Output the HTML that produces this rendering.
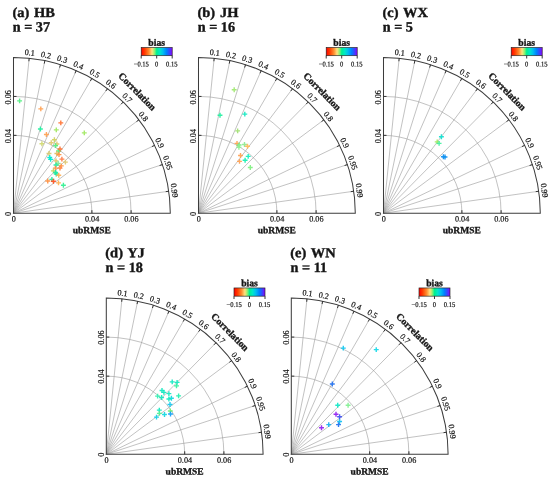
<!DOCTYPE html>
<html><head><meta charset="utf-8"><title>Taylor diagrams</title>
<style>
html,body{margin:0;padding:0;background:#fff}
svg{display:block}
text{font-family:"Liberation Serif","Times New Roman",serif;fill:#151515;stroke:#151515;stroke-width:0.2}
.t{font-weight:bold;font-size:14.2px;stroke-width:0.4}
.tk{font-size:8.2px;text-anchor:middle}
.ax{font-weight:bold;font-size:9.5px;text-anchor:middle;stroke-width:0.33}
.co{font-weight:bold;font-size:9.8px;text-anchor:middle;stroke-width:0.33}
.cb{font-weight:bold;font-size:9.7px;text-anchor:middle;stroke-width:0.33}
.cl{font-size:7.3px;text-anchor:middle}
.g{stroke:#9c9c9c;stroke-width:0.62;fill:none}
.a{stroke:#3c3c3c;stroke-width:1.02;fill:none}
.k{stroke:#2a2a2a;stroke-width:0.95;fill:none}
.m{stroke-width:1.4;fill:none;opacity:0.92}
</style></head><body>
<svg width="550" height="480" viewBox="0 0 550 480">
<defs><linearGradient id="rb" x1="0" x2="1" y1="0" y2="0">
<stop offset="0" stop-color="#ff0000"/><stop offset="0.12" stop-color="#ff4000"/><stop offset="0.25" stop-color="#ff9030"/>
<stop offset="0.35" stop-color="#ffe080"/><stop offset="0.42" stop-color="#a0f070"/><stop offset="0.5" stop-color="#00f090"/>
<stop offset="0.6" stop-color="#00e8c8"/><stop offset="0.7" stop-color="#00c0f0"/><stop offset="0.82" stop-color="#0080ff"/>
<stop offset="0.92" stop-color="#4040ff"/><stop offset="1" stop-color="#9000ff"/></linearGradient></defs>
<rect width="550" height="480" fill="#fff"/>

<g transform="translate(13.5,213.2)">
<text class="t" style="font-size:13.9px;word-spacing:1.1px" transform="translate(-1,-196.3) rotate(0.05) scale(1.04,1)">(a) HB</text>
<text class="t" transform="translate(-0.7,-181.7) rotate(0.05)">n = 37</text>
<path class="g" d="M0 0L15.68 -154.92M0 0L31.36 -152.55M0 0L47.04 -148.53M0 0L62.72 -142.7M0 0L78.4 -134.84M0 0L94.08 -124.56M0 0L109.76 -111.19M0 0L125.44 -93.42M0 0L141.12 -67.87M0 0L148.96 -48.62M0 0L155.23 -21.96"/>
<path class="g" d="M0 -77.85A78.4 77.85 0 0 1 78.4 0"/>
<path class="g" d="M0 -116.77A117.6 116.77 0 0 1 117.6 0"/>
<path class="a" d="M0 -155.7A156.8 155.7 0 0 1 156.8 0L0 0Z"/>
<path class="k" d="M15.68 -154.92L15.38 -151.93M31.36 -152.55L30.76 -149.61M47.04 -148.53L46.14 -145.67M62.72 -142.7L61.52 -139.95M78.4 -134.84L76.9 -132.24M94.08 -124.56L92.28 -122.16M109.76 -111.19L107.66 -109.05M125.44 -93.42L123.04 -91.62M141.12 -67.87L138.42 -66.56M148.96 -48.62L146.11 -47.68M155.23 -21.96L152.26 -21.54M78.4 0V-3M0 -77.85H3M117.6 0V-3M0 -116.77H3"/>
<text class="tk" transform="translate(16.23,-160.39) rotate(5.74)" y="2.5">0.1</text>
<text class="tk" transform="translate(32.46,-157.94) rotate(11.54)" y="2.5">0.2</text>
<text class="tk" transform="translate(48.69,-153.77) rotate(17.46)" y="2.5">0.3</text>
<text class="tk" transform="translate(64.92,-147.74) rotate(23.58)" y="2.5">0.4</text>
<text class="tk" transform="translate(81.15,-139.6) rotate(30)" y="2.5">0.5</text>
<text class="tk" transform="translate(97.38,-128.96) rotate(36.87)" y="2.5">0.6</text>
<text class="tk" transform="translate(113.61,-115.12) rotate(44.43)" y="2.5">0.7</text>
<text class="tk" transform="translate(129.84,-96.72) rotate(53.13)" y="2.5">0.8</text>
<text class="tk" transform="translate(146.07,-70.27) rotate(64.16)" y="2.5">0.9</text>
<text class="tk" transform="translate(154.19,-50.33) rotate(71.81)" y="2.5">0.95</text>
<text class="tk" transform="translate(160.68,-22.74) rotate(81.89)" y="2.5">0.99</text>
<text class="tk" transform="translate(0.2,8.4) rotate(0.05)">0</text>
<text class="tk" transform="translate(-2.1,0.85) rotate(-90)">0</text>
<text class="tk" transform="translate(78.6,8.4) rotate(0.05)">0.04</text>
<text class="tk" transform="translate(-2.1,-77) rotate(-90)">0.04</text>
<text class="tk" transform="translate(117.8,8.4) rotate(0.05)">0.06</text>
<text class="tk" transform="translate(-2.1,-115.92) rotate(-90)">0.06</text>
<text class="ax" transform="translate(78.3,20.1) rotate(0.05)">ubRMSE</text>
<text class="co" transform="translate(123.8,-121.8) rotate(45.3)" y="3.3">Correlation</text>
<text class="cb" transform="translate(143.2,-167.5) rotate(0.05)">bias</text>
<rect x="127.7" y="-165.7" width="31" height="8.2" fill="url(#rb)" stroke="#222" stroke-width="0.65"/>
<path class="k" d="M127.7 -157.5v2.8M143.2 -157.5v2.8M158.7 -157.5v2.8"/>
<text class="cl" transform="translate(127.8,-146.7) rotate(0.05) scale(0.9,1)">−0.15</text>
<text class="cl" transform="translate(143.2,-146.7) rotate(0.05) scale(0.9,1)">0</text>
<text class="cl" transform="translate(158.2,-146.7) rotate(0.05) scale(0.9,1)">0.15</text>
<path class="m" stroke="#50f080" d="M3.65 -112.3h4.9M6.1 -114.75v4.9"/>
<path class="m" stroke="#ffa050" d="M24.85 -104.3h4.9M27.3 -106.75v4.9"/>
<path class="m" stroke="#ff7030" d="M44.85 -90.3h4.9M47.3 -92.75v4.9"/>
<path class="m" stroke="#20f0a0" d="M24.45 -84.2h4.9M26.9 -86.65v4.9"/>
<path class="m" stroke="#a0e860" d="M40.35 -83.3h4.9M42.8 -85.75v4.9"/>
<path class="m" stroke="#ffa050" d="M30.45 -78.7h4.9M32.9 -81.15v4.9"/>
<path class="m" stroke="#a0e860" d="M68.35 -80.3h4.9M70.8 -82.75v4.9"/>
<path class="m" stroke="#d0d060" d="M38.45 -73.45h4.9M40.9 -75.9v4.9"/>
<path class="m" stroke="#d0d870" d="M25.95 -69.45h4.9M28.4 -71.9v4.9"/>
<path class="m" stroke="#e0c870" d="M35.3 -70.45h4.9M37.75 -72.9v4.9"/>
<path class="m" stroke="#e0c870" d="M40.95 -69.2h4.9M43.4 -71.65v4.9"/>
<path class="m" stroke="#50f080" d="M39.65 -67.6h4.9M42.1 -70.05v4.9"/>
<path class="m" stroke="#50f080" d="M42.55 -62.2h4.9M45 -64.65v4.9"/>
<path class="m" stroke="#ff7030" d="M44.05 -64.2h4.9M46.5 -66.65v4.9"/>
<path class="m" stroke="#d8c870" d="M33.05 -59.7h4.9M35.5 -62.15v4.9"/>
<path class="m" stroke="#e0b860" d="M40.95 -59.7h4.9M43.4 -62.15v4.9"/>
<path class="m" stroke="#ff9040" d="M43.05 -58.6h4.9M45.5 -61.05v4.9"/>
<path class="m" stroke="#00e8d0" d="M33.8 -55.7h4.9M36.25 -58.15v4.9"/>
<path class="m" stroke="#00e8d0" d="M34.65 -53.8h4.9M37.1 -56.25v4.9"/>
<path class="m" stroke="#ff7840" d="M45.95 -54.1h4.9M48.4 -56.55v4.9"/>
<path class="m" stroke="#e0c060" d="M40.05 -52.3h4.9M42.5 -54.75v4.9"/>
<path class="m" stroke="#e0c870" d="M49.45 -51.1h4.9M51.9 -53.55v4.9"/>
<path class="m" stroke="#80e890" d="M42.15 -49.7h4.9M44.6 -52.15v4.9"/>
<path class="m" stroke="#20e8a0" d="M40.05 -48.2h4.9M42.5 -50.65v4.9"/>
<path class="m" stroke="#ff9040" d="M45.3 -47.3h4.9M47.75 -49.75v4.9"/>
<path class="m" stroke="#ff8040" d="M44.05 -45.1h4.9M46.5 -47.55v4.9"/>
<path class="m" stroke="#ff9040" d="M39.45 -45.1h4.9M41.9 -47.55v4.9"/>
<path class="m" stroke="#c8d060" d="M37.45 -42.3h4.9M39.9 -44.75v4.9"/>
<path class="m" stroke="#20e8a0" d="M39.65 -40.7h4.9M42.1 -43.15v4.9"/>
<path class="m" stroke="#20e8a0" d="M40.3 -39.2h4.9M42.75 -41.65v4.9"/>
<path class="m" stroke="#ffb050" d="M42.8 -37.95h4.9M45.25 -40.4v4.9"/>
<path class="m" stroke="#ff9040" d="M31.8 -32.2h4.9M34.25 -34.65v4.9"/>
<path class="m" stroke="#20e8a0" d="M35.95 -33.8h4.9M38.4 -36.25v4.9"/>
<path class="m" stroke="#ff5020" d="M37.45 -31.95h4.9M39.9 -34.4v4.9"/>
<path class="m" stroke="#ffb050" d="M42.55 -30.3h4.9M45 -32.75v4.9"/>
<path class="m" stroke="#30f090" d="M47.45 -27.95h4.9M49.9 -30.4v4.9"/>
</g>
<g transform="translate(198.5,213.2)">
<text class="t" style="font-size:13.9px;word-spacing:1.1px" transform="translate(-1,-196.3) rotate(0.05) scale(1.04,1)">(b) JH</text>
<text class="t" transform="translate(-0.7,-181.7) rotate(0.05)">n = 16</text>
<path class="g" d="M0 0L15.68 -154.92M0 0L31.36 -152.55M0 0L47.04 -148.53M0 0L62.72 -142.7M0 0L78.4 -134.84M0 0L94.08 -124.56M0 0L109.76 -111.19M0 0L125.44 -93.42M0 0L141.12 -67.87M0 0L148.96 -48.62M0 0L155.23 -21.96"/>
<path class="g" d="M0 -77.85A78.4 77.85 0 0 1 78.4 0"/>
<path class="g" d="M0 -116.77A117.6 116.77 0 0 1 117.6 0"/>
<path class="a" d="M0 -155.7A156.8 155.7 0 0 1 156.8 0L0 0Z"/>
<path class="k" d="M15.68 -154.92L15.38 -151.93M31.36 -152.55L30.76 -149.61M47.04 -148.53L46.14 -145.67M62.72 -142.7L61.52 -139.95M78.4 -134.84L76.9 -132.24M94.08 -124.56L92.28 -122.16M109.76 -111.19L107.66 -109.05M125.44 -93.42L123.04 -91.62M141.12 -67.87L138.42 -66.56M148.96 -48.62L146.11 -47.68M155.23 -21.96L152.26 -21.54M78.4 0V-3M0 -77.85H3M117.6 0V-3M0 -116.77H3"/>
<text class="tk" transform="translate(16.23,-160.39) rotate(5.74)" y="2.5">0.1</text>
<text class="tk" transform="translate(32.46,-157.94) rotate(11.54)" y="2.5">0.2</text>
<text class="tk" transform="translate(48.69,-153.77) rotate(17.46)" y="2.5">0.3</text>
<text class="tk" transform="translate(64.92,-147.74) rotate(23.58)" y="2.5">0.4</text>
<text class="tk" transform="translate(81.15,-139.6) rotate(30)" y="2.5">0.5</text>
<text class="tk" transform="translate(97.38,-128.96) rotate(36.87)" y="2.5">0.6</text>
<text class="tk" transform="translate(113.61,-115.12) rotate(44.43)" y="2.5">0.7</text>
<text class="tk" transform="translate(129.84,-96.72) rotate(53.13)" y="2.5">0.8</text>
<text class="tk" transform="translate(146.07,-70.27) rotate(64.16)" y="2.5">0.9</text>
<text class="tk" transform="translate(154.19,-50.33) rotate(71.81)" y="2.5">0.95</text>
<text class="tk" transform="translate(160.68,-22.74) rotate(81.89)" y="2.5">0.99</text>
<text class="tk" transform="translate(0.2,8.4) rotate(0.05)">0</text>
<text class="tk" transform="translate(-2.1,0.85) rotate(-90)">0</text>
<text class="tk" transform="translate(78.6,8.4) rotate(0.05)">0.04</text>
<text class="tk" transform="translate(-2.1,-77) rotate(-90)">0.04</text>
<text class="tk" transform="translate(117.8,8.4) rotate(0.05)">0.06</text>
<text class="tk" transform="translate(-2.1,-115.92) rotate(-90)">0.06</text>
<text class="ax" transform="translate(78.3,20.1) rotate(0.05)">ubRMSE</text>
<text class="co" transform="translate(123.8,-121.8) rotate(45.3)" y="3.3">Correlation</text>
<text class="cb" transform="translate(143.2,-167.5) rotate(0.05)">bias</text>
<rect x="127.7" y="-165.7" width="31" height="8.2" fill="url(#rb)" stroke="#222" stroke-width="0.65"/>
<path class="k" d="M127.7 -157.5v2.8M143.2 -157.5v2.8M158.7 -157.5v2.8"/>
<text class="cl" transform="translate(127.8,-146.7) rotate(0.05) scale(0.9,1)">−0.15</text>
<text class="cl" transform="translate(143.2,-146.7) rotate(0.05) scale(0.9,1)">0</text>
<text class="cl" transform="translate(158.2,-146.7) rotate(0.05) scale(0.9,1)">0.15</text>
<path class="m" stroke="#a0e870" d="M33.25 -123.5h4.9M35.7 -125.95v4.9"/>
<path class="m" stroke="#20f0a0" d="M19.05 -98h4.9M21.5 -100.45v4.9"/>
<path class="m" stroke="#10e8c0" d="M43.85 -99.1h4.9M46.3 -101.55v4.9"/>
<path class="m" stroke="#a0e070" d="M36.7 -82.3h4.9M39.15 -84.75v4.9"/>
<path class="m" stroke="#ffa050" d="M36.05 -69.8h4.9M38.5 -72.25v4.9"/>
<path class="m" stroke="#70f080" d="M38.15 -68.2h4.9M40.6 -70.65v4.9"/>
<path class="m" stroke="#90f090" d="M37.95 -65.9h4.9M40.4 -68.35v4.9"/>
<path class="m" stroke="#90e890" d="M43.55 -68.7h4.9M46 -71.15v4.9"/>
<path class="m" stroke="#ffb858" d="M46.55 -67h4.9M49 -69.45v4.9"/>
<path class="m" stroke="#ffa050" d="M39.55 -57.7h4.9M42 -60.15v4.9"/>
<path class="m" stroke="#10f0c0" d="M47.25 -56.8h4.9M49.7 -59.25v4.9"/>
<path class="m" stroke="#ffa050" d="M38.55 -51.8h4.9M41 -54.25v4.9"/>
<path class="m" stroke="#10f0b0" d="M44.15 -53h4.9M46.6 -55.45v4.9"/>
<path class="m" stroke="#80f080" d="M49.35 -45.7h4.9M51.8 -48.15v4.9"/>
</g>
<g transform="translate(383.5,213.2)">
<text class="t" style="font-size:13.9px;word-spacing:1.1px" transform="translate(-1,-196.3) rotate(0.05) scale(1.04,1)">(c) WX</text>
<text class="t" transform="translate(-0.7,-181.7) rotate(0.05)">n = 5</text>
<path class="g" d="M0 0L15.68 -154.92M0 0L31.36 -152.55M0 0L47.04 -148.53M0 0L62.72 -142.7M0 0L78.4 -134.84M0 0L94.08 -124.56M0 0L109.76 -111.19M0 0L125.44 -93.42M0 0L141.12 -67.87M0 0L148.96 -48.62M0 0L155.23 -21.96"/>
<path class="g" d="M0 -77.85A78.4 77.85 0 0 1 78.4 0"/>
<path class="g" d="M0 -116.77A117.6 116.77 0 0 1 117.6 0"/>
<path class="a" d="M0 -155.7A156.8 155.7 0 0 1 156.8 0L0 0Z"/>
<path class="k" d="M15.68 -154.92L15.38 -151.93M31.36 -152.55L30.76 -149.61M47.04 -148.53L46.14 -145.67M62.72 -142.7L61.52 -139.95M78.4 -134.84L76.9 -132.24M94.08 -124.56L92.28 -122.16M109.76 -111.19L107.66 -109.05M125.44 -93.42L123.04 -91.62M141.12 -67.87L138.42 -66.56M148.96 -48.62L146.11 -47.68M155.23 -21.96L152.26 -21.54M78.4 0V-3M0 -77.85H3M117.6 0V-3M0 -116.77H3"/>
<text class="tk" transform="translate(16.23,-160.39) rotate(5.74)" y="2.5">0.1</text>
<text class="tk" transform="translate(32.46,-157.94) rotate(11.54)" y="2.5">0.2</text>
<text class="tk" transform="translate(48.69,-153.77) rotate(17.46)" y="2.5">0.3</text>
<text class="tk" transform="translate(64.92,-147.74) rotate(23.58)" y="2.5">0.4</text>
<text class="tk" transform="translate(81.15,-139.6) rotate(30)" y="2.5">0.5</text>
<text class="tk" transform="translate(97.38,-128.96) rotate(36.87)" y="2.5">0.6</text>
<text class="tk" transform="translate(113.61,-115.12) rotate(44.43)" y="2.5">0.7</text>
<text class="tk" transform="translate(129.84,-96.72) rotate(53.13)" y="2.5">0.8</text>
<text class="tk" transform="translate(146.07,-70.27) rotate(64.16)" y="2.5">0.9</text>
<text class="tk" transform="translate(154.19,-50.33) rotate(71.81)" y="2.5">0.95</text>
<text class="tk" transform="translate(160.68,-22.74) rotate(81.89)" y="2.5">0.99</text>
<text class="tk" transform="translate(0.2,8.4) rotate(0.05)">0</text>
<text class="tk" transform="translate(-2.1,0.85) rotate(-90)">0</text>
<text class="tk" transform="translate(78.6,8.4) rotate(0.05)">0.04</text>
<text class="tk" transform="translate(-2.1,-77) rotate(-90)">0.04</text>
<text class="tk" transform="translate(117.8,8.4) rotate(0.05)">0.06</text>
<text class="tk" transform="translate(-2.1,-115.92) rotate(-90)">0.06</text>
<text class="ax" transform="translate(78.3,20.1) rotate(0.05)">ubRMSE</text>
<text class="co" transform="translate(123.8,-121.8) rotate(45.3)" y="3.3">Correlation</text>
<text class="cb" transform="translate(143.2,-167.5) rotate(0.05)">bias</text>
<rect x="127.7" y="-165.7" width="31" height="8.2" fill="url(#rb)" stroke="#222" stroke-width="0.65"/>
<path class="k" d="M127.7 -157.5v2.8M143.2 -157.5v2.8M158.7 -157.5v2.8"/>
<text class="cl" transform="translate(127.8,-146.7) rotate(0.05) scale(0.9,1)">−0.15</text>
<text class="cl" transform="translate(143.2,-146.7) rotate(0.05) scale(0.9,1)">0</text>
<text class="cl" transform="translate(158.2,-146.7) rotate(0.05) scale(0.9,1)">0.15</text>
<path class="m" stroke="#10e0d0" d="M55.45 -76.5h4.9M57.9 -78.95v4.9"/>
<path class="m" stroke="#a0e860" d="M51.25 -71.3h4.9M53.7 -73.75v4.9"/>
<path class="m" stroke="#40f0a0" d="M53.15 -69.8h4.9M55.6 -72.25v4.9"/>
<path class="m" stroke="#1090f0" d="M57.45 -56.4h4.9M59.9 -58.85v4.9"/>
<path class="m" stroke="#1090f0" d="M59.05 -56.2h4.9M61.5 -58.65v4.9"/>
</g>
<g transform="translate(106.3,454.3)">
<text class="t" style="font-size:13.9px;word-spacing:1.1px" transform="translate(-1,-197.06) rotate(0.05) scale(1.04,1)">(d) YJ</text>
<text class="t" transform="translate(-0.7,-182.4) rotate(0.05)">n = 18</text>
<path class="g" d="M0 0L15.68 -155.52M0 0L31.36 -153.14M0 0L47.04 -149.1M0 0L62.72 -143.25M0 0L78.4 -135.36M0 0L94.08 -125.04M0 0L109.76 -111.62M0 0L125.44 -93.78M0 0L141.12 -68.13M0 0L148.96 -48.8M0 0L155.23 -22.05"/>
<path class="g" d="M0 -78.15A78.4 78.15 0 0 1 78.4 0"/>
<path class="g" d="M0 -117.22A117.6 117.22 0 0 1 117.6 0"/>
<path class="a" d="M0 -156.3A156.8 156.3 0 0 1 156.8 0L0 0Z"/>
<path class="k" d="M15.68 -155.52L15.38 -152.53M31.36 -153.14L30.76 -150.2M47.04 -149.1L46.14 -146.24M62.72 -143.25L61.52 -140.5M78.4 -135.36L76.9 -132.76M94.08 -125.04L92.28 -122.64M109.76 -111.62L107.66 -109.48M125.44 -93.78L123.04 -91.98M141.12 -68.13L138.42 -66.82M148.96 -48.8L146.11 -47.87M155.23 -22.05L152.26 -21.63M78.4 0V-3M0 -78.15H3M117.6 0V-3M0 -117.22H3"/>
<text class="tk" transform="translate(16.23,-160.99) rotate(5.74)" y="2.5">0.1</text>
<text class="tk" transform="translate(32.46,-158.53) rotate(11.54)" y="2.5">0.2</text>
<text class="tk" transform="translate(48.69,-154.35) rotate(17.46)" y="2.5">0.3</text>
<text class="tk" transform="translate(64.92,-148.29) rotate(23.58)" y="2.5">0.4</text>
<text class="tk" transform="translate(81.15,-140.12) rotate(30)" y="2.5">0.5</text>
<text class="tk" transform="translate(97.38,-129.44) rotate(36.87)" y="2.5">0.6</text>
<text class="tk" transform="translate(113.61,-115.55) rotate(44.43)" y="2.5">0.7</text>
<text class="tk" transform="translate(129.84,-97.08) rotate(53.13)" y="2.5">0.8</text>
<text class="tk" transform="translate(146.07,-70.53) rotate(64.16)" y="2.5">0.9</text>
<text class="tk" transform="translate(154.19,-50.52) rotate(71.81)" y="2.5">0.95</text>
<text class="tk" transform="translate(160.68,-22.82) rotate(81.89)" y="2.5">0.99</text>
<text class="tk" transform="translate(0.2,8.4) rotate(0.05)">0</text>
<text class="tk" transform="translate(-2.4,0.5) rotate(-90)">0</text>
<text class="tk" transform="translate(78.6,8.4) rotate(0.05)">0.04</text>
<text class="tk" transform="translate(-2.4,-77.65) rotate(-90)">0.04</text>
<text class="tk" transform="translate(117.8,8.4) rotate(0.05)">0.06</text>
<text class="tk" transform="translate(-2.4,-116.72) rotate(-90)">0.06</text>
<text class="ax" transform="translate(78.3,20.1) rotate(0.05)">ubRMSE</text>
<text class="co" transform="translate(123.8,-122.27) rotate(45.3)" y="3.3">Correlation</text>
<text class="cb" transform="translate(143.2,-168.15) rotate(0.05)">bias</text>
<rect x="127.7" y="-166.34" width="31" height="8.2" fill="url(#rb)" stroke="#222" stroke-width="0.65"/>
<path class="k" d="M127.7 -158.11v2.8M143.2 -158.11v2.8M158.7 -158.11v2.8"/>
<text class="cl" transform="translate(127.8,-147.27) rotate(0.05) scale(0.9,1)">−0.15</text>
<text class="cl" transform="translate(143.2,-147.27) rotate(0.05) scale(0.9,1)">0</text>
<text class="cl" transform="translate(158.2,-147.27) rotate(0.05) scale(0.9,1)">0.15</text>
<path class="m" stroke="#10e8c0" d="M63.45 -72.45h4.9M65.9 -74.9v4.9"/>
<path class="m" stroke="#10e8c0" d="M68.35 -71.95h4.9M70.8 -74.4v4.9"/>
<path class="m" stroke="#30f0a0" d="M67.75 -68.45h4.9M70.2 -70.9v4.9"/>
<path class="m" stroke="#10e8c0" d="M53.25 -63.85h4.9M55.7 -66.3v4.9"/>
<path class="m" stroke="#10e8c0" d="M55.15 -61.95h4.9M57.6 -64.4v4.9"/>
<path class="m" stroke="#10e8c0" d="M60.15 -60.65h4.9M62.6 -63.1v4.9"/>
<path class="m" stroke="#20f0b0" d="M69.85 -58.45h4.9M72.3 -60.9v4.9"/>
<path class="m" stroke="#30f0b0" d="M48.85 -58.15h4.9M51.3 -60.6v4.9"/>
<path class="m" stroke="#10e8c0" d="M52.85 -56.75h4.9M55.3 -59.2v4.9"/>
<path class="m" stroke="#10d8e0" d="M62.65 -56.05h4.9M65.1 -58.5v4.9"/>
<path class="m" stroke="#10e8c0" d="M60.15 -55.25h4.9M62.6 -57.7v4.9"/>
<path class="m" stroke="#10c8f0" d="M61.25 -49.75h4.9M63.7 -52.2v4.9"/>
<path class="m" stroke="#10e8c0" d="M50.55 -44.15h4.9M53 -46.6v4.9"/>
<path class="m" stroke="#70f070" d="M61.55 -43.35h4.9M64 -45.8v4.9"/>
<path class="m" stroke="#50f090" d="M50.65 -40.95h4.9M53.1 -43.4v4.9"/>
<path class="m" stroke="#10d8e0" d="M55.75 -39.75h4.9M58.2 -42.2v4.9"/>
<path class="m" stroke="#10a0f8" d="M61.75 -40.35h4.9M64.2 -42.8v4.9"/>
<path class="m" stroke="#10d0e8" d="M47.75 -37.15h4.9M50.2 -39.6v4.9"/>
</g>
<g transform="translate(291.3,454.3)">
<text class="t" style="font-size:13.9px;word-spacing:1.1px" transform="translate(-1,-197.06) rotate(0.05) scale(1.04,1)">(e) WN</text>
<text class="t" transform="translate(-0.7,-182.4) rotate(0.05)">n = 11</text>
<path class="g" d="M0 0L15.68 -155.52M0 0L31.36 -153.14M0 0L47.04 -149.1M0 0L62.72 -143.25M0 0L78.4 -135.36M0 0L94.08 -125.04M0 0L109.76 -111.62M0 0L125.44 -93.78M0 0L141.12 -68.13M0 0L148.96 -48.8M0 0L155.23 -22.05"/>
<path class="g" d="M0 -78.15A78.4 78.15 0 0 1 78.4 0"/>
<path class="g" d="M0 -117.22A117.6 117.22 0 0 1 117.6 0"/>
<path class="a" d="M0 -156.3A156.8 156.3 0 0 1 156.8 0L0 0Z"/>
<path class="k" d="M15.68 -155.52L15.38 -152.53M31.36 -153.14L30.76 -150.2M47.04 -149.1L46.14 -146.24M62.72 -143.25L61.52 -140.5M78.4 -135.36L76.9 -132.76M94.08 -125.04L92.28 -122.64M109.76 -111.62L107.66 -109.48M125.44 -93.78L123.04 -91.98M141.12 -68.13L138.42 -66.82M148.96 -48.8L146.11 -47.87M155.23 -22.05L152.26 -21.63M78.4 0V-3M0 -78.15H3M117.6 0V-3M0 -117.22H3"/>
<text class="tk" transform="translate(16.23,-160.99) rotate(5.74)" y="2.5">0.1</text>
<text class="tk" transform="translate(32.46,-158.53) rotate(11.54)" y="2.5">0.2</text>
<text class="tk" transform="translate(48.69,-154.35) rotate(17.46)" y="2.5">0.3</text>
<text class="tk" transform="translate(64.92,-148.29) rotate(23.58)" y="2.5">0.4</text>
<text class="tk" transform="translate(81.15,-140.12) rotate(30)" y="2.5">0.5</text>
<text class="tk" transform="translate(97.38,-129.44) rotate(36.87)" y="2.5">0.6</text>
<text class="tk" transform="translate(113.61,-115.55) rotate(44.43)" y="2.5">0.7</text>
<text class="tk" transform="translate(129.84,-97.08) rotate(53.13)" y="2.5">0.8</text>
<text class="tk" transform="translate(146.07,-70.53) rotate(64.16)" y="2.5">0.9</text>
<text class="tk" transform="translate(154.19,-50.52) rotate(71.81)" y="2.5">0.95</text>
<text class="tk" transform="translate(160.68,-22.82) rotate(81.89)" y="2.5">0.99</text>
<text class="tk" transform="translate(0.2,8.4) rotate(0.05)">0</text>
<text class="tk" transform="translate(-2.4,0.5) rotate(-90)">0</text>
<text class="tk" transform="translate(78.6,8.4) rotate(0.05)">0.04</text>
<text class="tk" transform="translate(-2.4,-77.65) rotate(-90)">0.04</text>
<text class="tk" transform="translate(117.8,8.4) rotate(0.05)">0.06</text>
<text class="tk" transform="translate(-2.4,-116.72) rotate(-90)">0.06</text>
<text class="ax" transform="translate(78.3,20.1) rotate(0.05)">ubRMSE</text>
<text class="co" transform="translate(123.8,-122.27) rotate(45.3)" y="3.3">Correlation</text>
<text class="cb" transform="translate(143.2,-168.15) rotate(0.05)">bias</text>
<rect x="127.7" y="-166.34" width="31" height="8.2" fill="url(#rb)" stroke="#222" stroke-width="0.65"/>
<path class="k" d="M127.7 -158.11v2.8M143.2 -158.11v2.8M158.7 -158.11v2.8"/>
<text class="cl" transform="translate(127.8,-147.27) rotate(0.05) scale(0.9,1)">−0.15</text>
<text class="cl" transform="translate(143.2,-147.27) rotate(0.05) scale(0.9,1)">0</text>
<text class="cl" transform="translate(158.2,-147.27) rotate(0.05) scale(0.9,1)">0.15</text>
<path class="m" stroke="#10c8f0" d="M49.55 -106.2h4.9M52 -108.65v4.9"/>
<path class="m" stroke="#10d8e8" d="M82.5 -104.7h4.9M84.95 -107.15v4.9"/>
<path class="m" stroke="#2070f0" d="M38.55 -70.3h4.9M41 -72.75v4.9"/>
<path class="m" stroke="#10e8c8" d="M43.95 -49.1h4.9M46.4 -51.55v4.9"/>
<path class="m" stroke="#80f090" d="M54.35 -49.1h4.9M56.8 -51.55v4.9"/>
<path class="m" stroke="#9020f0" d="M42.25 -40.1h4.9M44.7 -42.55v4.9"/>
<path class="m" stroke="#4050f0" d="M45.85 -37.6h4.9M48.3 -40.05v4.9"/>
<path class="m" stroke="#10c0f0" d="M45.85 -32.8h4.9M48.3 -35.25v4.9"/>
<path class="m" stroke="#2070f0" d="M44.75 -29.7h4.9M47.2 -32.15v4.9"/>
<path class="m" stroke="#10b0f0" d="M35 -29.7h4.9M37.45 -32.15v4.9"/>
<path class="m" stroke="#9020f0" d="M27.75 -26.6h4.9M30.2 -29.05v4.9"/>
</g>
</svg></body></html>
